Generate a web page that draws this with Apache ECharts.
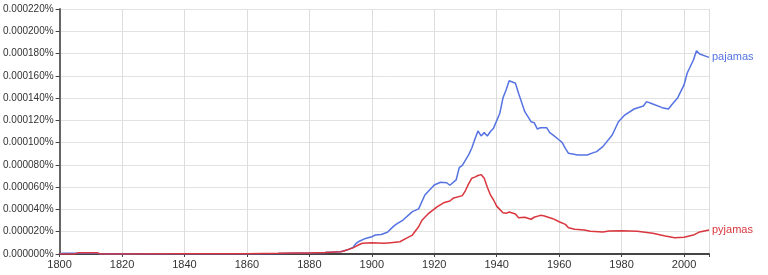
<!DOCTYPE html>
<html>
<head>
<meta charset="utf-8">
<script src="https://cdn.jsdelivr.net/npm/echarts@6/dist/echarts.min.js"></script>
<style>
html,body{margin:0;padding:0;background:#fff;}
#chart{width:768px;height:275px;}
</style>
</head>
<body>
<div id="chart"></div>
<script>
// values in millionths of a percent (20 => 0.000020%)
const seriesNames = ['pajamas', 'pyjamas'];
const yTicks = [0, 20, 40, 60, 80, 100, 120, 140, 160, 180, 200, 220];
const xTicks = [1800, 1820, 1840, 1860, 1880, 1900, 1920, 1940, 1960, 1980, 2000];

const pajamasYears = [1800,1801,1805,1812,1813,1820,1840,1850,1860,1870,1875,1880,1885,1888,1890,1892,1894,1895,1896,1898,1900,1901,1903,1905,1907,1908,1910,1913,1915,1917,1920,1922,1924,1925,1927,1928,1929,1931,1932,1933,1934,1935,1936,1937,1938,1939,1941,1942,1943,1944,1946,1947,1949,1951,1952,1953,1954,1956,1957,1958,1960,1961,1962,1963,1966,1969,1971,1972,1974,1977,1979,1981,1984,1987,1988,1990,1993,1995,1996,1998,2000,2001,2003,2004,2005,2008];
const pajamasValues = [0,0.6,0.7,0.7,0,0.1,0.2,0.2,0.3,0.5,0.7,0.9,1.4,1.8,2.1,3.5,6,9.6,11.5,14,15.5,17,17.5,19.5,25,27,30.5,38,40.5,53,62,64.4,64,61.7,66.5,77.5,79.5,89,95,103,110.5,106,109,106,110,113,126.4,140,147.3,155.6,153.3,144.3,127.8,118.8,117.9,112.3,113.4,113.4,109,106.9,102.4,100,94.9,90.4,88.9,88.9,91,91.9,96.4,106.9,118.8,124.8,130.2,132.9,136.8,134.7,131.4,130.2,133.8,140.4,151.8,162.3,174.2,182.6,179.6,176.6];

const pyjamasYears = [1800,1805,1806,1812,1813,1820,1840,1850,1855,1860,1870,1875,1880,1885,1888,1890,1891,1894,1895,1896,1897,1900,1904,1906,1909,1911,1913,1915,1916,1918,1921,1923,1925,1926,1929,1930,1931,1932,1933,1934,1935,1936,1937,1938,1939,1940,1942,1943,1944,1946,1947,1949,1951,1952,1954,1955,1957,1958,1960,1962,1963,1965,1968,1970,1974,1976,1980,1985,1990,1994,1997,2000,2003,2005,2008];
const pyjamasValues = [0,0,1.2,1.2,0.1,0.1,0.3,0.2,0.3,0.3,0.6,0.9,1.0,1.3,1.8,2.0,2.7,5.5,7,8.5,9.6,10.2,9.6,10.2,11,14,17,24.5,30,36,42.5,46,47.6,50,52.4,57,63,68,69,70.5,71.3,68,60,53,48.5,43,37.1,36.5,37.7,35.9,32.6,33,31.2,33,34.7,34.4,32.6,31.7,29,26.6,23.6,22.2,21.6,20.4,19.8,20.7,20.9,20.4,18.6,16.2,14.6,15,17,19.8,21.6];

const colors = ['#5573e3', '#d9363e'];

function pairs(xs, ys) { return xs.map((x, i) => [x, ys[i]]); }

const chart = echarts.init(document.getElementById('chart'), null, {renderer: 'canvas'});
const font = 'Liberation Sans, Arial, sans-serif';

chart.setOption({
  animation: false,
  backgroundColor: '#fff',
  grid: {left: 58, top: 9, right: 59, bottom: 21, containLabel: false},
  xAxis: {
    type: 'value',
    min: xTicks[0],
    max: 2008,
    interval: 20,
    axisLine: {show: true, onZero: false, lineStyle: {color: '#444', width: 2}},
    axisTick: {show: true, length: 3, lineStyle: {color: '#444'}},
    axisLabel: {color: '#333', fontSize: 11, fontFamily: font, margin: 5,
      formatter: v => (xTicks.indexOf(v) >= 0 ? String(v) : '')},
    splitLine: {show: true, lineStyle: {color: '#dddddd', width: 1}}
  },
  yAxis: {
    type: 'value',
    min: yTicks[0],
    max: yTicks[yTicks.length - 1],
    interval: 20,
    axisLine: {show: true, lineStyle: {color: '#666', width: 2}},
    axisTick: {show: true, length: 4, lineStyle: {color: '#444'}},
    axisLabel: {color: '#333', fontSize: 10, fontFamily: font, margin: 6,
      formatter: v => (v / 1e6).toFixed(6) + '%'},
    splitLine: {show: true, lineStyle: {color: '#e2e2e2', width: 1}}
  },
  series: [
    {
      name: seriesNames[0], type: 'line', showSymbol: false, smooth: false,
      data: pairs(pajamasYears, pajamasValues),
      lineStyle: {color: colors[0], width: 1.5},
      itemStyle: {color: colors[0]},
      endLabel: {show: true, formatter: '{a}', color: colors[0], fontSize: 11, fontFamily: font, distance: 3}
    },
    {
      name: seriesNames[1], type: 'line', showSymbol: false, smooth: false,
      data: pairs(pyjamasYears, pyjamasValues),
      lineStyle: {color: colors[1], width: 1.5},
      itemStyle: {color: colors[1]},
      endLabel: {show: true, formatter: '{a}', color: colors[1], fontSize: 11, fontFamily: font, distance: 3}
    }
  ]
});
</script>
</body>
</html>
